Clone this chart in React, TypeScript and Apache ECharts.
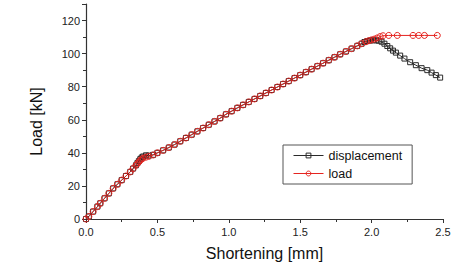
import React, { useEffect, useRef } from "react";
import * as echarts from "echarts";

// Shortening [mm] and load [kN] for the displacement-controlled record
const dispX = [
  0.0, 0.02, 0.05, 0.08, 0.1, 0.13, 0.16, 0.19, 0.22, 0.25, 0.28, 0.31, 0.33, 0.35, 0.36, 0.37, 0.38, 0.39,
  0.4, 0.42, 0.44, 0.47, 0.5, 0.54, 0.58, 0.62, 0.66, 0.7, 0.74, 0.78, 0.82, 0.86, 0.9, 0.94, 0.98,
  1.02, 1.06, 1.1, 1.14, 1.18, 1.22, 1.26, 1.3, 1.34, 1.38, 1.42, 1.46, 1.5, 1.54, 1.58, 1.62, 1.66,
  1.7, 1.74, 1.78, 1.82, 1.86, 1.9, 1.93, 1.95, 1.97, 1.99, 2.01, 2.03, 2.05, 2.07, 2.09, 2.11, 2.13,
  2.15, 2.17, 2.2, 2.23, 2.27, 2.31, 2.35, 2.39, 2.42, 2.45, 2.48,
];
const dispY = [
  0, 1.5, 4.5, 7.5, 9.5, 12.5, 15.5, 18.5, 21, 23.5, 26, 28.5, 30.5, 32.5, 33.8, 35, 36.2, 37.2,
  37.8, 38.5, 38.3, 38.8, 40, 41.5, 43.2, 45, 47, 49, 51, 53, 55, 57, 59, 61, 63.3,
  65.2, 67.2, 69, 70.8, 72.6, 74.4, 76.2, 78, 79.8, 81.6, 83.4, 85.2, 87, 88.8, 90.6, 92.4, 94.2,
  96, 97.8, 99.6, 101.3, 103, 104.7, 106, 107, 107.6, 107.9, 108.1, 108, 107.8, 107.2, 106, 104.6, 103.2,
  101.8, 100.6, 98.8, 97, 94.8, 93, 91.2, 90, 88.5, 87, 85.5,
];

// Load-controlled record
const loadX = [
  0.0, 0.02, 0.05, 0.08, 0.1, 0.13, 0.16, 0.19, 0.22, 0.25, 0.28, 0.31, 0.33, 0.35, 0.36, 0.37, 0.38, 0.39,
  0.4, 0.42, 0.44, 0.47, 0.5, 0.54, 0.58, 0.62, 0.66, 0.7, 0.74, 0.78, 0.82, 0.86, 0.9, 0.94, 0.98,
  1.02, 1.06, 1.1, 1.14, 1.18, 1.22, 1.26, 1.3, 1.34, 1.38, 1.42, 1.46, 1.5, 1.54, 1.58, 1.62, 1.66,
  1.7, 1.74, 1.78, 1.82, 1.86, 1.9, 1.93, 1.96, 1.98, 2.0, 2.02, 2.04, 2.06, 2.08, 2.12, 2.18, 2.29,
  2.33, 2.37, 2.46,
];
const loadY = [
  0, 1.5, 4.5, 7.5, 9.5, 12.5, 15.5, 18.5, 21, 23.5, 26, 28.5, 30.5, 32.5, 33.5, 34.5, 35.5, 36.2,
  36.8, 37.4, 37.9, 38.7, 40, 41.5, 43.2, 45, 47, 49, 51, 53, 55, 57, 59, 61, 63.3,
  65.2, 67.2, 69, 70.8, 72.6, 74.4, 76.2, 78, 79.8, 81.6, 83.4, 85.2, 87, 88.8, 90.6, 92.4, 94.2,
  96, 97.8, 99.6, 101.3, 103, 104.7, 106, 107.2, 107.8, 108.3, 108.8, 109.5, 110.3, 110.8, 111, 111, 111,
  111, 111, 111,
];

const FONT = "'Liberation Sans', Arial, Helvetica, sans-serif";
const BLACK = "#2a2a2a";
const RED = "#e52420";

export default function App() {
  const ref = useRef<HTMLDivElement>(null);

  useEffect(() => {
    if (!ref.current) return;
    const chart = echarts.init(ref.current, undefined, { renderer: "svg" });

    const axisLine = { show: true, lineStyle: { color: "#333", width: 1.2 } };

    chart.setOption({
      animation: false,
      backgroundColor: "#fff",
      textStyle: { fontFamily: FONT },
      grid: { left: 86, right: 31, top: 4, bottom: 54 },
      legend: {
        orient: "vertical",
        left: 283,
        top: 145,
        width: 132,
        padding: [4, 10, 4, 10],
        itemGap: 5,
        itemWidth: 30,
        itemHeight: 6,
        borderColor: "#555",
        borderWidth: 1,
        backgroundColor: "#fff",
        lineStyle: { width: 1 },
        itemStyle: { borderWidth: 1 },
        textStyle: { fontFamily: FONT, fontSize: 12.5, color: "#111" },
        data: ["displacement", "load"],
      },
      xAxis: {
        type: "value",
        min: 0,
        max: 2.5,
        interval: 0.5,
        name: "Shortening [mm]",
        nameLocation: "middle",
        nameGap: 26,
        nameTextStyle: { fontFamily: FONT, fontSize: 16, color: "#111" },
        axisLine,
        axisTick: { show: true, inside: false, length: 4, lineStyle: { color: "#333" } },
        minorTick: { show: true, splitNumber: 2, length: 3, lineStyle: { color: "#333" } },
        splitLine: { show: false },
        axisLabel: {
          fontFamily: FONT,
          fontSize: 11,
          color: "#222",
          margin: 7,
          formatter: (v: number) => v.toFixed(1),
        },
      },
      yAxis: {
        type: "value",
        min: 0,
        max: 130,
        interval: 20,
        name: "Load [kN]",
        nameLocation: "middle",
        nameGap: 42,
        nameTextStyle: { fontFamily: FONT, fontSize: 16, color: "#111", padding: [0, 20, 0, 0] },
        axisLine,
        axisTick: { show: true, inside: false, length: 4, lineStyle: { color: "#333" } },
        minorTick: { show: true, splitNumber: 2, length: 3, lineStyle: { color: "#333" } },
        splitLine: { show: false },
        axisLabel: {
          fontFamily: FONT,
          fontSize: 11,
          color: "#222",
          margin: 6,
          formatter: (v: number) => (v % 20 === 0 ? String(v) : ""),
        },
      },
      series: [
        {
          name: "displacement",
          type: "line",
          data: dispX.map((x, i) => [x, dispY[i]]),
          symbol: "rect",
          symbolSize: 5,
          showAllSymbol: true,
          lineStyle: { color: BLACK, width: 1 },
          itemStyle: { color: "rgba(255,255,255,0)", borderColor: BLACK, borderWidth: 1 },
        },
        {
          name: "load",
          type: "line",
          data: loadX.map((x, i) => [x, loadY[i]]),
          symbol: "circle",
          symbolSize: 6,
          showAllSymbol: true,
          lineStyle: { color: RED, width: 1 },
          itemStyle: { color: "rgba(255,255,255,0)", borderColor: RED, borderWidth: 1 },
        },
      ],
    });

    return () => chart.dispose();
  }, []);

  return <div ref={ref} style={{ width: 474, height: 273, position: "absolute", left: 0, top: 0 }} />;
}
